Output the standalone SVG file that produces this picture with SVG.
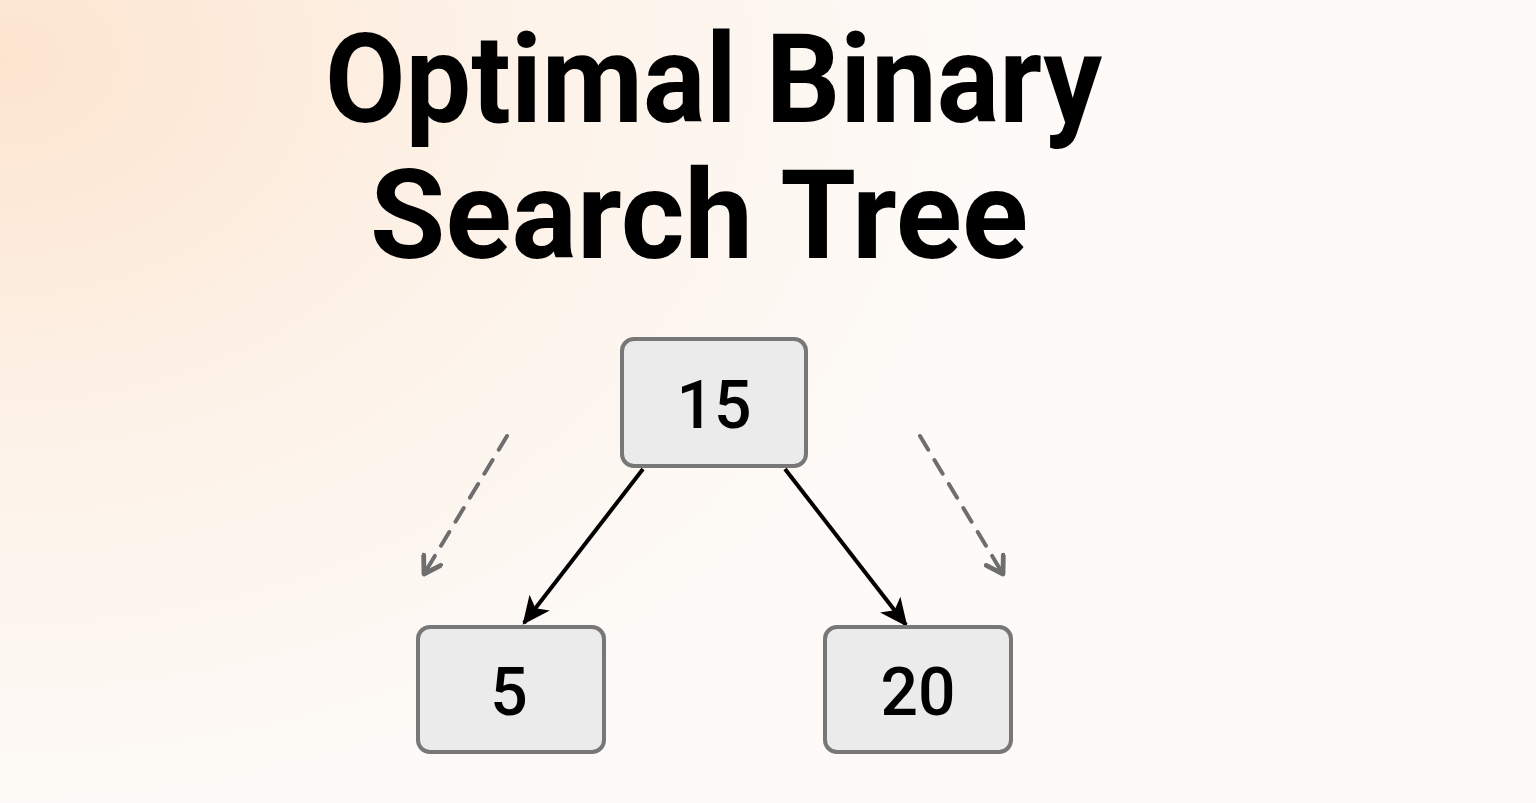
<svg xmlns="http://www.w3.org/2000/svg" width="1536" height="803" viewBox="0 0 1536 803">
<defs>
<radialGradient id="bg" cx="0" cy="0" r="1" gradientUnits="userSpaceOnUse" gradientTransform="translate(0 60) scale(1000 750)">
<stop offset="0" stop-color="#fce5cf"/>
<stop offset="0.5" stop-color="#fdf2e8"/>
<stop offset="1" stop-color="#fdfaf7"/>
</radialGradient>
<marker id="ah" viewBox="0 0 12 12" refX="11" refY="6" markerWidth="7" markerHeight="7" markerUnits="strokeWidth" orient="auto">
<path d="M0,0.5 L12,6 L0,11.5 L3,6 Z" fill="#000"/>
</marker>
<marker id="dh" viewBox="0 0 12 12" refX="10" refY="6" markerWidth="6" markerHeight="6" markerUnits="strokeWidth" orient="auto">
<path d="M2,1 L10,6 L2,11" fill="none" stroke="#6e6e6e" stroke-width="2.4" stroke-linecap="round" stroke-linejoin="round"/>
</marker>
</defs>
<style>
.title{font-family:Roboto,"Liberation Sans",Arial,sans-serif;font-weight:bold;font-size:124px;fill:#000}
.box{fill:#ebebeb;stroke:#777;stroke-width:4}
.lbl{font-family:Roboto,"Liberation Sans",Arial,sans-serif;font-weight:500;font-size:66px;fill:#000;text-anchor:middle}
.edge{stroke:#000;stroke-width:4;fill:none}
.dash{stroke:#6e6e6e;stroke-width:4;fill:none;stroke-dasharray:16 12;stroke-linecap:round}
</style>
<rect width="1536" height="803" fill="url(#bg)"/>
<g id="title">
<text class="title" x="325" y="122" textLength="777" lengthAdjust="spacingAndGlyphs">Optimal Binary</text>
<text class="title" x="370" y="258" textLength="658" lengthAdjust="spacingAndGlyphs">Search Tree</text>
</g>
<g id="connectors">
<line class="edge" x1="643" y1="469" x2="524" y2="623" marker-end="url(#ah)"/>
<line class="edge" x1="785" y1="469" x2="906" y2="625" marker-end="url(#ah)"/>
<line class="dash" x1="507" y1="436" x2="424" y2="574" marker-end="url(#dh)"/>
<line class="dash" x1="920" y1="436" x2="1003" y2="574" marker-end="url(#dh)"/>
</g>
<g id="node-15">
<rect class="box" x="622" y="339" width="184" height="127" rx="12"/>
<text class="lbl" x="714" y="428">15</text>
</g>
<g id="node-5">
<rect class="box" x="418" y="627" width="186" height="125" rx="12"/>
<text class="lbl" x="509" y="715">5</text>
</g>
<g id="node-20">
<rect class="box" x="825" y="627" width="186" height="125" rx="12"/>
<text class="lbl" x="918" y="715">20</text>
</g>
</svg>
